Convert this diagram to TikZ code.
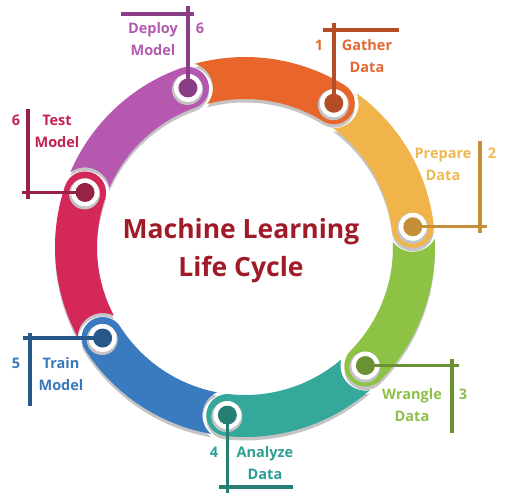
\documentclass[tikz,border=0pt]{standalone}
\usepackage{fontspec}
\setmainfont{Open Sans}

% segment, dot, text and leader colours
\definecolor{orngs}{RGB}{232,101,44}
\definecolor{orngd}{RGB}{180,76,40}
\definecolor{orngt}{RGB}{226,106,50}
\definecolor{yells}{RGB}{241,180,74}
\definecolor{yelld}{RGB}{196,143,56}
\definecolor{yellt}{RGB}{238,184,82}
\definecolor{grens}{RGB}{141,194,68}
\definecolor{grend}{RGB}{106,146,50}
\definecolor{grent}{RGB}{140,192,72}
\definecolor{teals}{RGB}{52,168,154}
\definecolor{teald}{RGB}{38,126,116}
\definecolor{tealt}{RGB}{45,158,146}
\definecolor{blues}{RGB}{58,122,191}
\definecolor{blued}{RGB}{38,88,138}
\definecolor{bluet}{RGB}{58,120,185}
\definecolor{pinks}{RGB}{212,40,90}
\definecolor{pinkd}{RGB}{150,34,68}
\definecolor{pinkt}{RGB}{195,35,80}
\definecolor{purps}{RGB}{182,87,176}
\definecolor{purpd}{RGB}{138,62,136}
\definecolor{purpt}{RGB}{180,90,175}
\definecolor{titlered}{RGB}{160,26,40}
\definecolor{shadowgr}{RGB}{196,196,196}

% one piece of the ring, ending round at angle #1
\newcommand{\segpath}[1]{%
  ({#1+51.43-4.34}:190) arc[start angle=#1+51.43-4.34, end angle=#1, radius=190]
  arc[start angle=#1, end angle=#1-180, radius=21]
  arc[start angle=#1, end angle=#1+51.43-4.92, radius=148]
  arc[start angle=#1+51.43-149.5, end angle=#1+51.43-35.1, radius=25] -- cycle}

\tikzset{
  lbl/.style={font=\bfseries\fontsize{14.5}{22}\selectfont, inner sep=0pt, align=center},
  lead/.style={line width=3.4pt},
  ringdot/.style={circle, inner sep=0pt, minimum size=19pt},
  title/.style={font=\bfseries\fontsize{26.5}{38}\selectfont, text=titlered, align=center}
}

\begin{document}
\begin{tikzpicture}[x=1pt,y=1pt]
\useasboundingbox (-245,-253) rectangle (266,247);

% shadows
\foreach \a in {58.3,6.87,-44.56,-95.99,-147.41,-198.84,-250.27}
  \fill[shadowgr, shift={(0,-3.5)}] \segpath{\a};

% ring pieces and their dots
\foreach \a/\c in {58.3/orng,6.87/yell,-44.56/gren,-95.99/teal,-147.41/blue,-198.84/pink,-250.27/purp}{
  \fill[\c s] \segpath{\a};
  \fill[shadowgr] (\a:169) ++(-0.5,-1.5) circle[radius=15.5];
  \fill[white] (\a:169) circle[radius=14];
}

\node[ringdot, fill=orngd] (gather) at (58.3:169) {};
\node[ringdot, fill=yelld] (prepare) at (6.87:169) {};
\node[ringdot, fill=grend] (wrangle) at (-44.56:169) {};
\node[ringdot, fill=teald] (analyze) at (-95.99:169) {};
\node[ringdot, fill=blued] (train) at (-147.41:169) {};
\node[ringdot, fill=pinkd] (test) at (161.16:169) {};
\node[ringdot, fill=purpd] (deploy) at (109.73:169) {};

% 1 gather
\coordinate (gathtop) at (gather.center |- 0,224);
\draw[lead, orngd] (gather.center) -- (gathtop);
\draw[lead, orngd] (78,217) -- (154,217);
\node[lbl, text=orngt] (gathnum) at (74,202) {1};
\node[lbl, text=orngt] (gathtxt) at (122,191) {Gather\\Data};

% 2 prepare
\coordinate (prepend) at (242,0 |- prepare.center);
\draw[lead, yelld] (prepare.center) -- (prepend);
\draw[lead, yelld] (235,106) -- (235,14);
\node[lbl, text=yellt] (prepnum) at (247,94) {2};
\node[lbl, text=yellt] (preptxt) at (198,83) {Prepare\\Data};

% 3 wrangle
\coordinate (wranend) at (214,0 |- wrangle.center);
\draw[lead, grend] (wrangle.center) -- (wranend);
\draw[lead, grend] (207,-112) -- (207,-186);
\node[lbl, text=grent] (wrannum) at (218,-147) {3};
\node[lbl, text=grent] (wrantxt) at (167,-158) {Wrangle\\Data};

% 4 analyze
\coordinate (analbot) at (analyze.center |- 0,-246);
\draw[lead, teald] (analyze.center) -- (analbot);
\draw[lead, teald] (-26,-240) -- (48,-240);
\node[lbl, text=tealt] (analnum) at (-31,-205) {4};
\node[lbl, text=tealt] (analtxt) at (20,-216) {Analyze\\Data};

% 5 train
\coordinate (trainend) at (-222,0 |- train.center);
\draw[lead, blued] (train.center) -- (trainend);
\draw[lead, blued] (-215,-86) -- (-215,-159);
\node[lbl, text=bluet] (trainnum) at (-229,-116) {5};
\node[lbl, text=bluet] (traintxt) at (-184,-127) {Train\\Model};

% 6 test
\coordinate (testend) at (-223,0 |- test.center);
\draw[lead, pinkd] (test.center) -- (testend);
\draw[lead, pinkd] (-217,138) -- (-217,48);
\node[lbl, text=pinkt] (testnum) at (-229,127) {6};
\node[lbl, text=pinkt] (testtxt) at (-188,116) {Test\\Model};

% 7 deploy
\coordinate (deploytop) at (deploy.center |- 0,241);
\draw[lead, purpd] (deploy.center) -- (deploytop);
\draw[lead, purpd] (-124,233) -- (-51,233);
\node[lbl, text=purpt] (deploynum) at (-45,219) {6};
\node[lbl, text=purpt] (deploytxt) at (-92,208) {Deploy\\Model};

\node[title] (mltitle) at (-4,-4) {Machine Learning\\Life Cycle};
\end{tikzpicture}
\end{document}
